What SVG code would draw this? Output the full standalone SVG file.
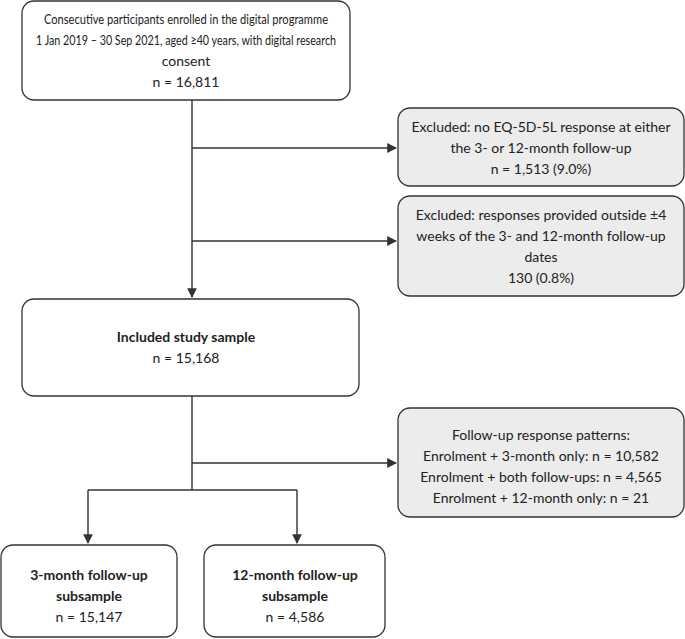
<svg xmlns="http://www.w3.org/2000/svg" width="685" height="639" viewBox="0 0 685 639">
<style>
text{font-family:Lato,"Liberation Sans",sans-serif;font-size:14px;fill:#222;text-anchor:middle}
.b{font-weight:bold}
.w{fill:#fff;stroke:#333;stroke-width:1.3}
.g{fill:#ececec;stroke:#333;stroke-width:1.3}
.c{stroke:#333;stroke-width:1.4;fill:none}
</style>
<defs><marker id="a" viewBox="0 0 10 10" refX="9" refY="5" markerWidth="7" markerHeight="7" orient="auto"><path d="M0,0L10,5L0,10z" fill="#333"/></marker></defs>
<g id="connectors">
<path class="c" d="M192,100V297" marker-end="url(#a)"/>
<path class="c" d="M192,148H396" marker-end="url(#a)"/>
<path class="c" d="M192,241H396" marker-end="url(#a)"/>
<path class="c" d="M192,396V490"/>
<path class="c" d="M192,463H396" marker-end="url(#a)"/>
<path class="c" d="M88,490H297"/>
<path class="c" d="M88,490V543" marker-end="url(#a)"/>
<path class="c" d="M297,490V543" marker-end="url(#a)"/>
</g>
<g id="n1"><rect class="w" x="22" y="1" width="328" height="99" rx="12"/>
<text x="186" y="24" font-size="13.5" textLength="284" lengthAdjust="spacingAndGlyphs">Consecutive participants enrolled in the digital programme</text>
<text x="186" y="45" font-size="13.5" textLength="300" lengthAdjust="spacingAndGlyphs">1 Jan 2019 – 30 Sep 2021, aged ≥40 years, with digital research</text>
<text x="186" y="66">consent</text>
<text x="186" y="87">n = 16,811</text></g>
<g id="e1"><rect class="g" x="398" y="108" width="286" height="78" rx="12"/>
<text x="541" y="132">Excluded: no EQ-5D-5L response at either</text>
<text x="541" y="153">the 3- or 12-month follow-up</text>
<text x="541" y="174">n = 1,513 (9.0%)</text></g>
<g id="e2"><rect class="g" x="398" y="196" width="286" height="100" rx="12"/>
<text x="541" y="220">Excluded: responses provided outside ±4</text>
<text x="541" y="241">weeks of the 3- and 12-month follow-up</text>
<text x="541" y="262">dates</text>
<text x="541" y="283">130 (0.8%)</text></g>
<g id="n2"><rect class="w" x="22" y="299" width="337" height="97" rx="12"/>
<text class="b" x="186" y="342">Included study sample</text>
<text x="186" y="363">n = 15,168</text></g>
<g id="e3"><rect class="g" x="398" y="408" width="286" height="109" rx="12"/>
<text x="541" y="440">Follow-up response patterns:</text>
<text x="541" y="461">Enrolment + 3-month only: n = 10,582</text>
<text x="541" y="482">Enrolment + both follow-ups: n = 4,565</text>
<text x="541" y="503">Enrolment + 12-month only: n = 21</text></g>
<g id="n3"><rect class="w" x="1" y="545" width="176" height="92" rx="12"/>
<text class="b" x="89" y="580">3-month follow-up</text>
<text class="b" x="89" y="601">subsample</text>
<text x="89" y="622">n = 15,147</text></g>
<g id="n4"><rect class="w" x="204" y="545" width="181" height="92" rx="12"/>
<text class="b" x="295" y="580">12-month follow-up</text>
<text class="b" x="295" y="601">subsample</text>
<text x="295" y="622">n = 4,586</text></g>
</svg>
